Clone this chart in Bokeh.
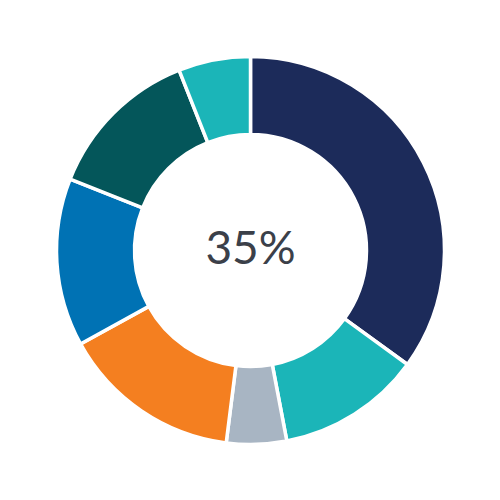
from math import pi

from bokeh.core.properties import value
from bokeh.embed import file_html
from bokeh.models import ColumnDataSource, Range1d
from bokeh.plotting import figure
from bokeh.resources import INLINE

segments = ["A", "B", "C", "D", "E", "F", "G"]
shares = [35, 12, 5, 15, 14, 13, 6]
colors = ["#1c2b5a", "#1bb5b8", "#a8b5c3", "#f47f20", "#0072b4", "#04565a", "#1bb5b8"]
center_label = "35%"

total = sum(shares)
starts, ends = [], []
acc = 0
for s in shares:
    starts.append(pi / 2 - 2 * pi * acc / total)
    acc += s
    ends.append(pi / 2 - 2 * pi * acc / total)

source = ColumnDataSource(dict(segment=segments, share=shares, color=colors, start=starts, end=ends))

# canvas lands at the top-left corner, so shift ranges to put the ring centre at (250, 250)
p = figure(
    width=484,
    height=484,
    x_range=Range1d(-250, 234),
    y_range=Range1d(-234, 250),
    output_backend="svg",
    toolbar_location=None,
    min_border=0,
)
p.annular_wedge(
    x=0, y=0,
    inner_radius=116, outer_radius=194,
    start_angle="start", end_angle="end", direction="clock",
    fill_color="color", line_color="white", line_width=3.5,
    source=source,
)
p.text(
    x=[0], y=[4], text=[center_label],
    text_align="center", text_baseline="middle",
    text_font=value("Lato"), text_font_size="46px", text_color="#3b4049",
)

p.axis.visible = False
p.grid.visible = False
p.outline_line_color = None

open("out.html", "w").write(file_html(p, INLINE))
